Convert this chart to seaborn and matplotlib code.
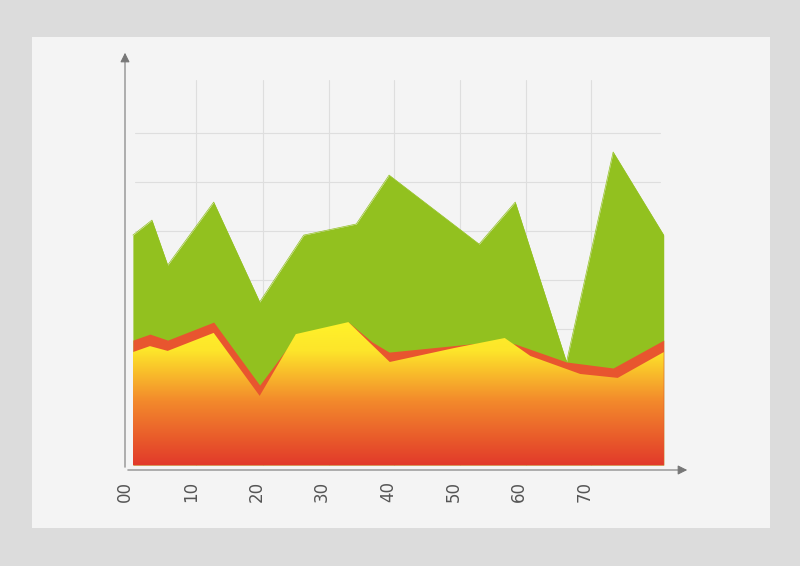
import numpy as np
import matplotlib
matplotlib.use("Agg")
import matplotlib.pyplot as plt
import seaborn as sns
from matplotlib.patches import Rectangle, Polygon
from matplotlib.colors import LinearSegmentedColormap

sns.set_style("white")
plt.rcParams['font.family'] = ['DejaVu Sans']

# data (x units, y units)
green_x = [1.2, 4.1, 6.5, 13.5, 20.5, 27.2, 35.2, 40.2, 53.9, 59.4, 67.2, 74.3, 82.0]
green_y = [78.3, 83.3, 68.3, 89.3, 56.0, 78.3, 82.0, 98.3, 75.3, 89.3, 36.0, 106.0, 78.3]
red_x = [1.2, 3.8, 6.5, 13.5, 20.5, 26.3, 34.0, 37.6, 40.2, 53.9, 59.4, 67.2, 74.3, 82.0]
red_y = [43.3, 45.3, 43.3, 49.3, 28.3, 45.3, 49.3, 42.7, 39.3, 42.3, 42.0, 36.0, 34.0, 43.3]
yel_x = [1.2, 3.8, 6.5, 13.5, 20.5, 26.0, 34.0, 40.3, 50.2, 57.8, 61.7, 69.3, 75.0, 82.0]
yel_y = [39.3, 41.3, 39.7, 45.7, 24.7, 45.3, 49.3, 36.0, 40.7, 44.0, 38.0, 32.0, 30.7, 39.3]
x_ticks = [0, 10, 20, 30, 40, 50, 60, 70]
x_labels = ["00", "10", "20", "30", "40", "50", "60", "70"]
base = 1.67

fig = plt.figure(figsize=(8, 5.66), dpi=100, facecolor="#dcdcdc")
bg = fig.add_axes([32/800, 1-528/566, (770-32)/800, (528-37)/566], zorder=-5)
bg.set_facecolor("#f4f4f4")
bg.set_xticks([]); bg.set_yticks([])
for s in bg.spines.values():
    s.set_visible(False)

ax = fig.add_axes([125/800, 96/566, 565/800, 420/566], zorder=1)
ax.set_facecolor("none")

# grid
for gy in [112.3, 96.0, 79.7, 63.3, 47.0]:
    ax.plot([1.5, 81.5], [gy, gy], color="#dedede", lw=0.8, zorder=1)
for gx in [10.8, 21.0, 31.0, 40.9, 51.0, 61.0, 70.9]:
    ax.plot([gx, gx], [base, 130], color="#dedede", lw=0.8, zorder=1)

ax.fill_between(green_x, base, green_y, color="#92c11f", lw=0, zorder=2)
sns.lineplot(x=green_x, y=green_y, color="#92c11f", lw=0.5, ax=ax, zorder=2)
ax.fill_between(red_x, base, red_y, color="#e8552f", lw=0, zorder=3)

# gradient yellow->red
cmap = LinearSegmentedColormap.from_list("g", [(0, "#e23a2a"), (0.45, "#f38a2c"), (0.8, "#fde52a"), (1, "#fff22a")])
grad = np.linspace(0, 1, 256).reshape(-1, 1)
im = ax.imshow(grad, cmap=cmap, origin="lower", aspect="auto",
               extent=[yel_x[0], yel_x[-1], base, max(yel_y)], zorder=4)
poly = Polygon(list(zip(yel_x, yel_y)) + [(yel_x[-1], base), (yel_x[0], base)],
               closed=True, transform=ax.transData, facecolor="none", edgecolor="none")
ax.add_patch(poly)
im.set_clip_path(poly)
ax.set_xlim(0, 86)
ax.set_ylim(0, 140)

for s in ax.spines.values():
    s.set_visible(False)
ax.annotate("", xy=(0, 140), xytext=(0, 0),
            arrowprops=dict(arrowstyle="-|>", color="#777777", lw=0.8, mutation_scale=14))
ax.annotate("", xy=(86, 0), xytext=(0, 0),
            arrowprops=dict(arrowstyle="-|>", color="#777777", lw=0.8, mutation_scale=14))
ax.set_xticks(x_ticks)
ax.set_xticklabels(x_labels, rotation=90, fontsize=12, color="#555555")
ax.set_yticks([])
ax.tick_params(axis="x", length=0, pad=8)

fig.savefig("out.png", dpi=100, facecolor=fig.get_facecolor())
